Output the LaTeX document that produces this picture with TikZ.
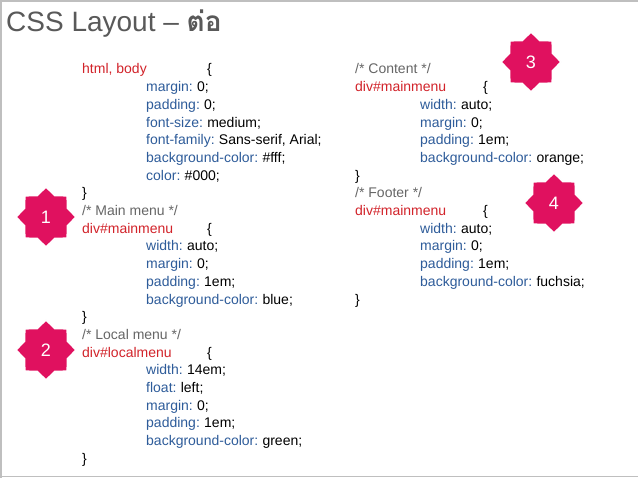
\documentclass[tikz,border=0pt]{standalone}
\usepackage{fontspec}
\setmainfont{Liberation Sans}
\newfontfamily\thaifont[Script=Thai]{Loma}
\usetikzlibrary{shapes.geometric}
\definecolor{sel}{HTML}{D2232A}
\definecolor{prop}{HTML}{2E5C9A}
\definecolor{cmt}{HTML}{666666}
\definecolor{starc}{HTML}{E0115F}
\tikzset{x=1pt,y=-1pt,
 t/.style={anchor=base west,inner sep=0,font=\fontsize{14}{16}\selectfont},
 s/.style={t,text=sel}, p/.style={t,text=prop}, c/.style={t,text=cmt},
 badge/.style={star,star points=8,star point ratio=1.3,fill=starc,draw=white,line width=1.5pt,minimum size=60pt,inner sep=0,text=white,font=\fontsize{18}{20}\selectfont}}
\newcommand{\R}[1]{{74+17.7*#1}}
\begin{document}
\begin{tikzpicture}
\useasboundingbox (0,0) rectangle (638,478);
\fill[white] (0,0) rectangle (638,478);
\draw[gray!50,line width=1.5pt] (0,1)--(638,1) (1,0)--(1,478) (0,476.5)--(638,476.5);
\node[anchor=base west,inner sep=0,text=black!65,font=\fontsize{28}{32}\selectfont] (title) at (6,32) {CSS Layout – {\thaifont\bfseries ต่อ}};
% left column
\node[s] (a1) at (82,\R{0}) {html, body}; \node[t] (b1) at (207,\R{0}) {\{};
\node[p] (a2) at (146,\R{1}) {margin:}; \node[t] at (a2.base east) {~0;};
\node[p] (a3) at (146,\R{2}) {padding:}; \node[t] at (a3.base east) {~0;};
\node[p] (a4) at (146,\R{3}) {font-size:}; \node[t] at (a4.base east) {~medium;};
\node[p] (a5) at (146,\R{4}) {font-family:}; \node[t] at (a5.base east) {~Sans-serif, Arial;};
\node[p] (a6) at (146,\R{5}) {background-color:}; \node[t] at (a6.base east) {~\#fff;};
\node[p] (a7) at (146,\R{6}) {color:}; \node[t] at (a7.base east) {~\#000;};
\node[t] (a8) at (82,\R{7}) {\}};
\node[c] (a9) at (82,\R{8}) {/* Main menu */};
\node[s] (a10) at (82,\R{9}) {div\#mainmenu}; \node[t] at (207,\R{9}) {\{};
\node[p] (a11) at (146,\R{10}) {width:}; \node[t] at (a11.base east) {~auto;};
\node[p] (a12) at (146,\R{11}) {margin:}; \node[t] at (a12.base east) {~0;};
\node[p] (a13) at (146,\R{12}) {padding:}; \node[t] at (a13.base east) {~1em;};
\node[p] (a14) at (146,\R{13}) {background-color:}; \node[t] at (a14.base east) {~blue;};
\node[t] (a15) at (82,\R{14}) {\}};
\node[c] (a16) at (82,\R{15}) {/* Local menu */};
\node[s] (a17) at (82,\R{16}) {div\#localmenu}; \node[t] at (207,\R{16}) {\{};
\node[p] (a18) at (146,\R{17}) {width:}; \node[t] at (a18.base east) {~14em;};
\node[p] (a19) at (146,\R{18}) {float:}; \node[t] at (a19.base east) {~left;};
\node[p] (a20) at (146,\R{19}) {margin:}; \node[t] at (a20.base east) {~0;};
\node[p] (a21) at (146,\R{20}) {padding:}; \node[t] at (a21.base east) {~1em;};
\node[p] (a22) at (146,\R{21}) {background-color:}; \node[t] at (a22.base east) {~green;};
\node[t] (a23) at (82,\R{22}) {\}};
% right column
\node[c] (c1) at (355,\R{0}) {/* Content */};
\node[s] (c2) at (355,\R{1}) {div\#mainmenu}; \node[t] at (483,\R{1}) {\{};
\node[p] (c3) at (420,\R{2}) {width:}; \node[t] at (c3.base east) {~auto;};
\node[p] (c4) at (420,\R{3}) {margin:}; \node[t] at (c4.base east) {~0;};
\node[p] (c5) at (420,\R{4}) {padding:}; \node[t] at (c5.base east) {~1em;};
\node[p] (c6) at (420,\R{5}) {background-color:}; \node[t] at (c6.base east) {~orange;};
\node[t] (c7) at (355,\R{6}) {\}};
\node[c] (c8) at (355,\R{7}) {/* Footer */};
\node[s] (c9) at (355,\R{8}) {div\#mainmenu}; \node[t] at (483,\R{8}) {\{};
\node[p] (c10) at (420,\R{9}) {width:}; \node[t] at (c10.base east) {~auto;};
\node[p] (c11) at (420,\R{10}) {margin:}; \node[t] at (c11.base east) {~0;};
\node[p] (c12) at (420,\R{11}) {padding:}; \node[t] at (c12.base east) {~1em;};
\node[p] (c13) at (420,\R{12}) {background-color:}; \node[t] at (c13.base east) {~fuchsia;};
\node[t] (c14) at (355,\R{13}) {\}};
% badges
\node[badge] (s1) at (46,217) {1};
\node[badge] (s2) at (46,350) {2};
\node[badge] (s3) at (531,62) {3};
\node[badge] (s4) at (554,203) {4};
\end{tikzpicture}
\end{document}
